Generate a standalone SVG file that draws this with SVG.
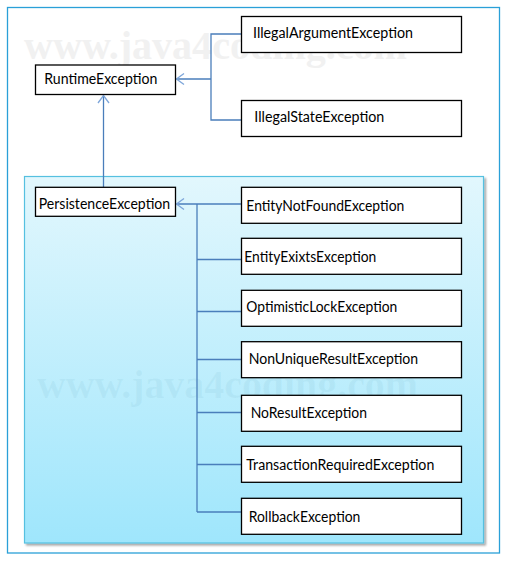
<svg xmlns="http://www.w3.org/2000/svg" width="511" height="565" viewBox="0 0 511 565">
<defs>
<linearGradient id="panelGrad" x1="0" y1="0" x2="0" y2="1">
<stop offset="0" stop-color="#e2f7fd"/>
<stop offset="1" stop-color="#9fe6fc"/>
</linearGradient>
<filter id="shadow" x="-5%" y="-5%" width="110%" height="110%">
<feGaussianBlur in="SourceAlpha" stdDeviation="1.2"/>
<feOffset dx="1.5" dy="2" result="b"/>
<feComponentTransfer><feFuncA type="linear" slope="0.35"/></feComponentTransfer>
<feMerge><feMergeNode/><feMergeNode in="SourceGraphic"/></feMerge>
</filter>
<marker id="openArrow" markerUnits="userSpaceOnUse" markerWidth="14" markerHeight="14" refX="13" refY="7" orient="auto" viewBox="0 0 14 14">
<path d="M5.5,1.5 L13,7 L5.5,12.5" fill="none" stroke="#7ea6da" stroke-width="1.3"/>
</marker>
<style>
.box{fill:#ffffff;stroke:#000000;stroke-width:1.3}
.lbl{font-family:Lato,"Open Sans","Liberation Sans",sans-serif;font-size:14.5px;fill:#000000}
.wm{font-family:"Liberation Serif","Times New Roman",serif;font-weight:bold;font-size:41px}
.conn{fill:none;stroke:#4a7ebb;stroke-width:1.3}
</style>
</defs>
<rect x="0" y="0" width="511" height="565" fill="#ffffff"/>
<rect x="7.5" y="7.5" width="492" height="545.5" fill="#ffffff" stroke="#2aa0d8" stroke-width="1.3"/>
<text class="wm" x="24" y="58.5" fill="#f1f1f1" textLength="383" lengthAdjust="spacingAndGlyphs">www.java4coding.com</text>
<g id="panel">
<rect x="24.5" y="176.5" width="459" height="366.5" fill="url(#panelGrad)" stroke="#55c0e0" stroke-width="1.2" filter="url(#shadow)"/>
</g>
<text class="wm" x="37" y="397.5" fill="#5aa0b8" fill-opacity="0.09" textLength="381" lengthAdjust="spacingAndGlyphs">www.java4coding.com</text>
<g id="connectors">
<path class="conn" d="M241,34 H211 V120 H241"/>
<path class="conn" d="M211,79 H176.5" marker-end="url(#openArrow)"/>
<path class="conn" d="M103.5,187 V95.5" marker-end="url(#openArrow)"/>
<path class="conn" d="M197,204 V512"/>
<path class="conn" d="M241,204 H176.5" marker-end="url(#openArrow)"/>
<path class="conn" d="M197,259.5 H241"/>
<path class="conn" d="M197,311.5 H241"/>
<path class="conn" d="M197,359.5 H241"/>
<path class="conn" d="M197,412.5 H241"/>
<path class="conn" d="M197,464.5 H241"/>
<path class="conn" d="M197,512 H241"/>
</g>
<g id="RuntimeException">
<rect class="box" x="35.5" y="65" width="140" height="29.5"/>
<text class="lbl" x="44.3" y="83.5" textLength="113" lengthAdjust="spacingAndGlyphs">RuntimeException</text>
</g>
<g id="IllegalArgumentException">
<rect class="box" x="241.5" y="16.5" width="220" height="36"/>
<text class="lbl" x="253" y="37.5" textLength="160" lengthAdjust="spacingAndGlyphs">IllegalArgumentException</text>
</g>
<g id="IllegalStateException">
<rect class="box" x="241.5" y="100.5" width="220" height="36"/>
<text class="lbl" x="254.3" y="121.5" textLength="130" lengthAdjust="spacingAndGlyphs">IllegalStateException</text>
</g>
<g id="PersistenceException">
<rect class="box" x="35.5" y="187.3" width="140" height="29"/>
<text class="lbl" x="38.7" y="209" textLength="131.5" lengthAdjust="spacingAndGlyphs">PersistenceException</text>
</g>
<g id="EntityNotFoundException">
<rect class="box" x="241.5" y="187.3" width="220" height="36"/>
<text class="lbl" x="246.3" y="210.7" textLength="158" lengthAdjust="spacingAndGlyphs">EntityNotFoundException</text>
</g>
<g id="EntityExixtsException">
<rect class="box" x="241.5" y="238.3" width="220" height="36"/>
<text class="lbl" x="244.3" y="261.5" textLength="132" lengthAdjust="spacingAndGlyphs">EntityExixtsException</text>
</g>
<g id="OptimisticLockException">
<rect class="box" x="241.5" y="290.3" width="220" height="36"/>
<text class="lbl" x="246.3" y="312.2" textLength="151" lengthAdjust="spacingAndGlyphs">OptimisticLockException</text>
</g>
<g id="NonUniqueResultException">
<rect class="box" x="241.5" y="341.7" width="220" height="36"/>
<text class="lbl" x="248.7" y="364" textLength="169.5" lengthAdjust="spacingAndGlyphs">NonUniqueResultException</text>
</g>
<g id="NoResultException">
<rect class="box" x="241.5" y="395.3" width="220" height="36"/>
<text class="lbl" x="250.7" y="417.6" textLength="116.3" lengthAdjust="spacingAndGlyphs">NoResultException</text>
</g>
<g id="TransactionRequiredException">
<rect class="box" x="241.5" y="446.3" width="220" height="36"/>
<text class="lbl" x="246.3" y="470" textLength="188" lengthAdjust="spacingAndGlyphs">TransactionRequiredException</text>
</g>
<g id="RollbackException">
<rect class="box" x="241.5" y="498.3" width="220" height="36"/>
<text class="lbl" x="248.7" y="521.6" textLength="111.7" lengthAdjust="spacingAndGlyphs">RollbackException</text>
</g>
</svg>
